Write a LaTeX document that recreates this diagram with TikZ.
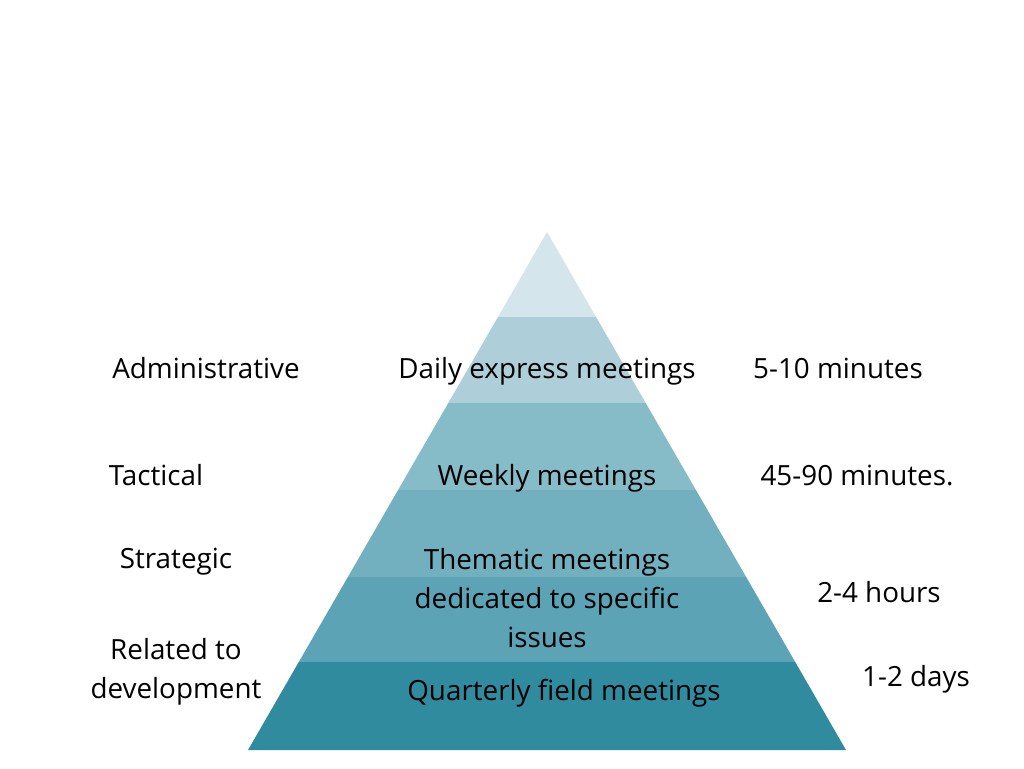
\documentclass[tikz,border=0pt]{standalone}
\usepackage{fontspec}
\setmainfont{Open Sans}
\definecolor{bandA}{HTML}{D4E6EC}
\definecolor{bandB}{HTML}{AECFD9}
\definecolor{bandC}{HTML}{86BCC8}
\definecolor{bandD}{HTML}{72B0BF}
\definecolor{bandE}{HTML}{5BA3B5}
\definecolor{bandF}{HTML}{318B9F}
\tikzset{
  lbl/.style={align=center, inner sep=0pt, font=\fontsize{27.8}{39}\selectfont, text=black},
  oneline/.style={lbl, text height=20pt, text depth=0pt},
}
\begin{document}
\begin{tikzpicture}[x=1pt,y=-1pt]
\useasboundingbox (0,0) rectangle (1024,768);
\fill[white] (0,0) rectangle (1024,768);
% pyramid bands
\begin{scope}
\clip (547,232) -- (846,750) -- (248,750) -- cycle;
\fill[bandA] (240,230) rectangle (850,317);
\fill[bandB] (240,317) rectangle (850,403);
\fill[bandC] (240,403) rectangle (850,490);
\fill[bandD] (240,490) rectangle (850,577);
\fill[bandE] (240,577) rectangle (850,662);
\fill[bandF] (240,662) rectangle (850,751);
\end{scope}
% left column
\node [oneline] (admin) at (206,368) {Administrative};
\node [oneline] (tact) at (156,475) {Tactical};
\node [oneline] (strat) at (176,558) {Strategic};
\node [lbl] (dev) at (176,672) {Related to\\development};
% middle column
\node [oneline] (daily) at (547,368) {Daily express meetings};
\node [oneline] (weekly) at (547,475) {Weekly meetings};
\node [lbl] (thematic) at (547,598) {Thematic meetings\\dedicated to specific\\issues};
\node [oneline] (quarterly) at (564,690) {Quarterly field meetings};
% right column
\node [oneline] (tenmin) at (838,368) {5-10 minutes};
\node [oneline] (ninetymin) at (857,475) {45-90 minutes.};
\node [oneline] (hours) at (879,592) {2-4 hours};
\node [oneline] (days) at (916,676) {1-2 days};
\end{tikzpicture}
\end{document}
